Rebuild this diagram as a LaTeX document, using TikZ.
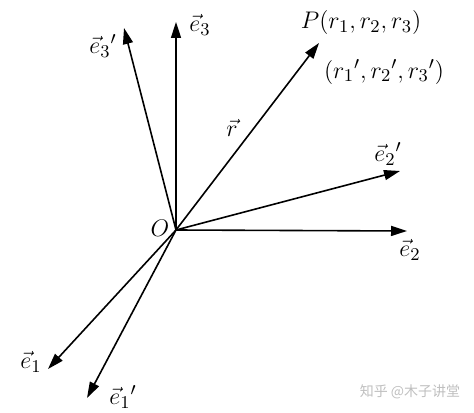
\documentclass[tikz,border=0pt]{standalone}
\usepackage{fontspec}
\newfontfamily\cjkfont{Noto Sans CJK SC}
\usetikzlibrary{arrows.meta}
\tikzset{
	vec/.style={line width=0.8pt, -{Triangle[length=8pt,width=5pt]}},
	lab/.style={inner sep=0pt, font=\fontsize{12.5}{14}\selectfont}
}

\begin{document}
\begin{tikzpicture}[x=0.5pt, y=0.5pt]
			%%%%% START %%%%%
			
			\useasboundingbox (0, 0) rectangle (474, 412);
			
			\coordinate (O) at (176, 182);
			\coordinate (e3) at (176, 390);
			\coordinate (e3p) at (124, 384);
			\coordinate (r) at (319, 369);
			\coordinate (e2p) at (400, 241);
			\coordinate (e2) at (407, 181);
			\coordinate (e1) at (48, 43);
			\coordinate (e1p) at (87, 14);
			
			\draw[vec] (O) -- (e3);
			\draw[vec] (O) -- (e3p);
			\draw[vec] (O) -- (r);
			\draw[vec] (O) -- (e2p);
			\draw[vec] (O) -- (e2);
			\draw[vec] (O) -- (e1);
			\draw[vec] (O) -- (e1p);
			
			\node[lab] (lO) at (160, 184) {$O$};
			\node[lab] (le3) at (200, 387) {$\vec{e}_3$};
			\node[lab] (le3p) at (103, 366) {$\vec{e}_3{}'$};
			\node[lab] (lP) at (361, 389) {$P(r_1,r_2,r_3)$};
			\node[lab] (lPp) at (384, 340) {$(r_1{}',r_2{}',r_3{}')$};
			\node[lab] (lr) at (232, 284) {$\vec{r}$};
			\node[lab] (le2p) at (388, 258) {$\vec{e}_2{}'$};
			\node[lab] (le2) at (410, 162) {$\vec{e}_2$};
			\node[lab] (le1) at (31, 50) {$\vec{e}_1$};
			\node[lab] (le1p) at (123, 15) {$\vec{e}_1{}'$};
			
			\node[inner sep=0pt, text=black!25, font=\cjkfont\fontsize{7}{8}\selectfont] (mark) at (410, 20) {知乎 @木子讲堂};
			
			%%%%% END %%%%%
		\end{tikzpicture}
\end{document}
